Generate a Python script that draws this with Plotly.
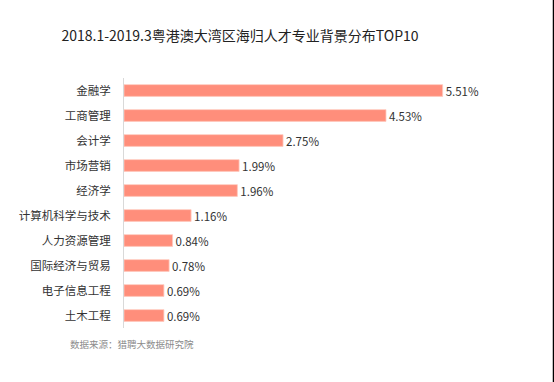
import plotly.graph_objects as go

categories = ["金融学", "工商管理", "会计学", "市场营销", "经济学",
              "计算机科学与技术", "人力资源管理", "国际经济与贸易", "电子信息工程", "土木工程"]
values = [5.51, 4.53, 2.75, 1.99, 1.96, 1.16, 0.84, 0.78, 0.69, 0.69]
title_text = "2018.1-2019.3粤港澳大湾区海归人才专业背景分布TOP10"
source_text = "数据来源：猎聘大数据研究院"

FONT = "Noto Sans CJK SC"
W, H = 554, 382
L, R, T, B = 124, 83, 78, 54
pw, ph = W - L - R, H - T - B

fig = go.Figure(go.Bar(
    x=values, y=categories, orientation="h",
    marker=dict(color="#FF8E7B", line=dict(color="#FFC9BE", width=0.8)),
    width=0.47,
    text=[f"{v:.2f}%" for v in values],
    textposition="outside",
    constraintext="none",
    textfont=dict(family=FONT, size=11.5, color="#333333"),
    cliponaxis=False,
))

fig.update_layout(
    width=W, height=H,
    margin=dict(l=L, r=R, t=T, b=B),
    paper_bgcolor="white", plot_bgcolor="white",
    showlegend=False,
    title=dict(text=title_text, x=240 / W, xanchor="center", y=1 - 36 / H, yanchor="middle",
               font=dict(family=FONT, size=14, color="#222222")),
    xaxis=dict(range=[0, 6], visible=False, fixedrange=True),
    yaxis=dict(autorange="reversed", type="category", showline=True, linecolor="#D9D9D9",
               linewidth=1, showgrid=False, ticks="", ticklabelstandoff=10,
               tickfont=dict(family=FONT, size=11.5, color="#333333")),
    annotations=[dict(text=source_text, xref="paper", yref="paper",
                      x=(68 - L) / pw, y=(T + ph - 344) / ph, xanchor="left", yanchor="middle",
                      showarrow=False, font=dict(family=FONT, size=9.5, color="#8C8C8C"))],
    shapes=[dict(type="line", xref="paper", yref="paper",
                 x0=(553.5 - L) / pw, x1=(553.5 - L) / pw,
                 y0=(T + ph) / ph + 0.05, y1=(T + ph - H) / ph - 0.05,
                 line=dict(color="black", width=1.5))],
)

fig.write_html("out.html")
